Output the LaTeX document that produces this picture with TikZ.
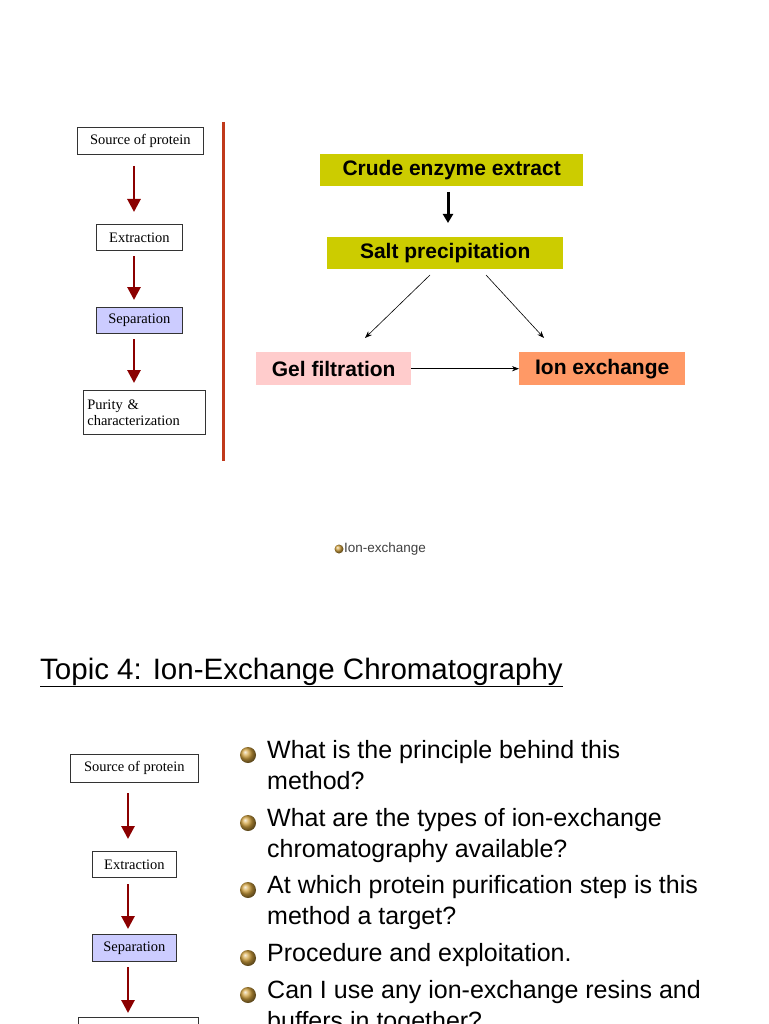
\documentclass[tikz,border=0pt]{standalone}
\usepackage{fontspec}
\setmainfont{Liberation Serif}
\newfontfamily\arial{Liberation Sans}
\usetikzlibrary{arrows.meta}
\definecolor{darkred}{HTML}{8B0000}
\definecolor{vline}{HTML}{C0391B}
\definecolor{olive}{HTML}{CCCC00}
\definecolor{sepblue}{HTML}{CCCCFF}
\definecolor{pinkish}{HTML}{FFCCCC}
\definecolor{orangeish}{HTML}{FF9966}
\definecolor{ballA}{HTML}{E8B84A}
\definecolor{ballB}{HTML}{7A4A10}
\tikzset{
  sbox/.style={draw=black!80, line width=0.7pt, font=\fontsize{14.5}{16}\selectfont, inner sep=0pt, anchor=north west},
  rarr/.style={draw=darkred, line width=2.8pt, -{Triangle[length=13pt,width=13pt]}},
  cbox/.style={inner sep=0pt, anchor=north west, font=\arial\bfseries\fontsize{21}{24}\selectfont},
  bul/.style={anchor=north west, font=\arial\fontsize{25}{31}\selectfont, align=left, inner sep=0pt},
}
\newcommand{\myball}[2]{\shade[ball color=ballA!80!ballB] (#1,#2) circle (8pt);}
\begin{document}
\begin{tikzpicture}[x=1pt,y=-1pt]
\useasboundingbox (0,0) rectangle (768,1024);
\clip (0,0) rectangle (768,1024);
% top left flow
\node[sbox, minimum width=126pt, minimum height=27pt] (s1) at (77,127) {Source of protein};
\node[sbox, minimum width=86pt, minimum height=26pt] (s2) at (96,224) {Extraction};
\node[sbox, fill=sepblue, minimum width=86pt, minimum height=26pt] (s3) at (96,307) {Separation};
\node[sbox, minimum width=122pt, minimum height=44pt, align=left, text width=114pt] (s4) at (83,390) {Purity \&\\characterization};
\coordinate (a1) at (134,166); \coordinate (a1e) at (134,212);
\coordinate (a2) at (134,256); \coordinate (a2e) at (134,300);
\coordinate (a3) at (134,339); \coordinate (a3e) at (134,383);
\draw[rarr] (a1) -- (a1e);
\draw[rarr] (a2) -- (a2e);
\draw[rarr] (a3) -- (a3e);
\coordinate (v1) at (223,122); \coordinate (v2) at (223,461);
\draw[vline, line width=3pt] (v1) -- (v2);
% right diagram
\node[cbox, fill=olive, minimum width=263pt, minimum height=32pt] (c1) at (320,154) {Crude enzyme extract};
\node[cbox, fill=olive, minimum width=236pt, minimum height=32pt] (c2) at (327,237) {Salt precipitation};
\node[cbox, fill=pinkish, minimum width=155pt, minimum height=33pt] (g) at (256,352) {Gel filtration};
\node[cbox, fill=orangeish, minimum width=166pt, minimum height=33pt] (ie) at (519,352) {Ion exchange};
\coordinate (b1) at (448,192); \coordinate (b1e) at (448,223);
\draw[line width=3pt, -{Triangle[length=9pt,width=10pt]}] (b1) -- (b1e);
\coordinate (l1) at (430,275); \coordinate (l1e) at (365,338);
\coordinate (l2) at (486,275); \coordinate (l2e) at (544,338);
\draw[line width=0.6pt, -{Stealth[length=7pt]}] (l1) -- (l1e);
\draw[line width=0.6pt, -{Stealth[length=7pt]}] (l2) -- (l2e);
\draw[line width=0.6pt, -{Stealth[length=7pt]}] (g.east) -- (ie.west);
% caption
\shade[ball color=ballA!80!ballB] (339,549) circle (4.5pt);
\node[anchor=west, inner sep=0pt, font=\arial\fontsize{13.5}{15}\selectfont, text=black!75] (cap) at (344,549) {Ion-exchange};
% title
\node[anchor=base west, inner sep=0pt, font=\arial\fontsize{29.5}{34}\selectfont] (title) at (40,679) {\underline{Topic 4: Ion-Exchange Chromatography}};
% bottom left flow
\node[sbox, minimum width=128pt, minimum height=28pt] (t1) at (70,754) {Source of protein};
\node[sbox, minimum width=84pt, minimum height=26pt] (t2) at (92,851) {Extraction};
\node[sbox, fill=sepblue, minimum width=84pt, minimum height=27pt] (t3) at (92,934) {Separation};
\node[sbox, minimum width=120pt, minimum height=40pt] (t4) at (78,1017) {};
\coordinate (d1) at (128,793); \coordinate (d1e) at (128,839);
\coordinate (d2) at (128,884); \coordinate (d2e) at (128,929);
\coordinate (d3) at (128,967); \coordinate (d3e) at (128,1013);
\draw[rarr] (d1) -- (d1e);
\draw[rarr] (d2) -- (d2e);
\draw[rarr] (d3) -- (d3e);
% bullets
\myball{248}{755}
\node[bul] (q1) at (267,740) {What is the principle behind this\\method?};
\myball{248}{823}
\node[bul] (q2) at (267,808) {What are the types of ion-exchange\\chromatography available?};
\myball{248}{890}
\node[bul] (q3) at (267,875) {At which protein purification step is this\\method a target?};
\myball{248}{958}
\node[bul] (q4) at (267,943) {Procedure and exploitation.};
\myball{248}{995}
\node[bul] (q5) at (267,980) {Can I use any ion-exchange resins and\\buffers in together?};
\end{tikzpicture}
\end{document}
